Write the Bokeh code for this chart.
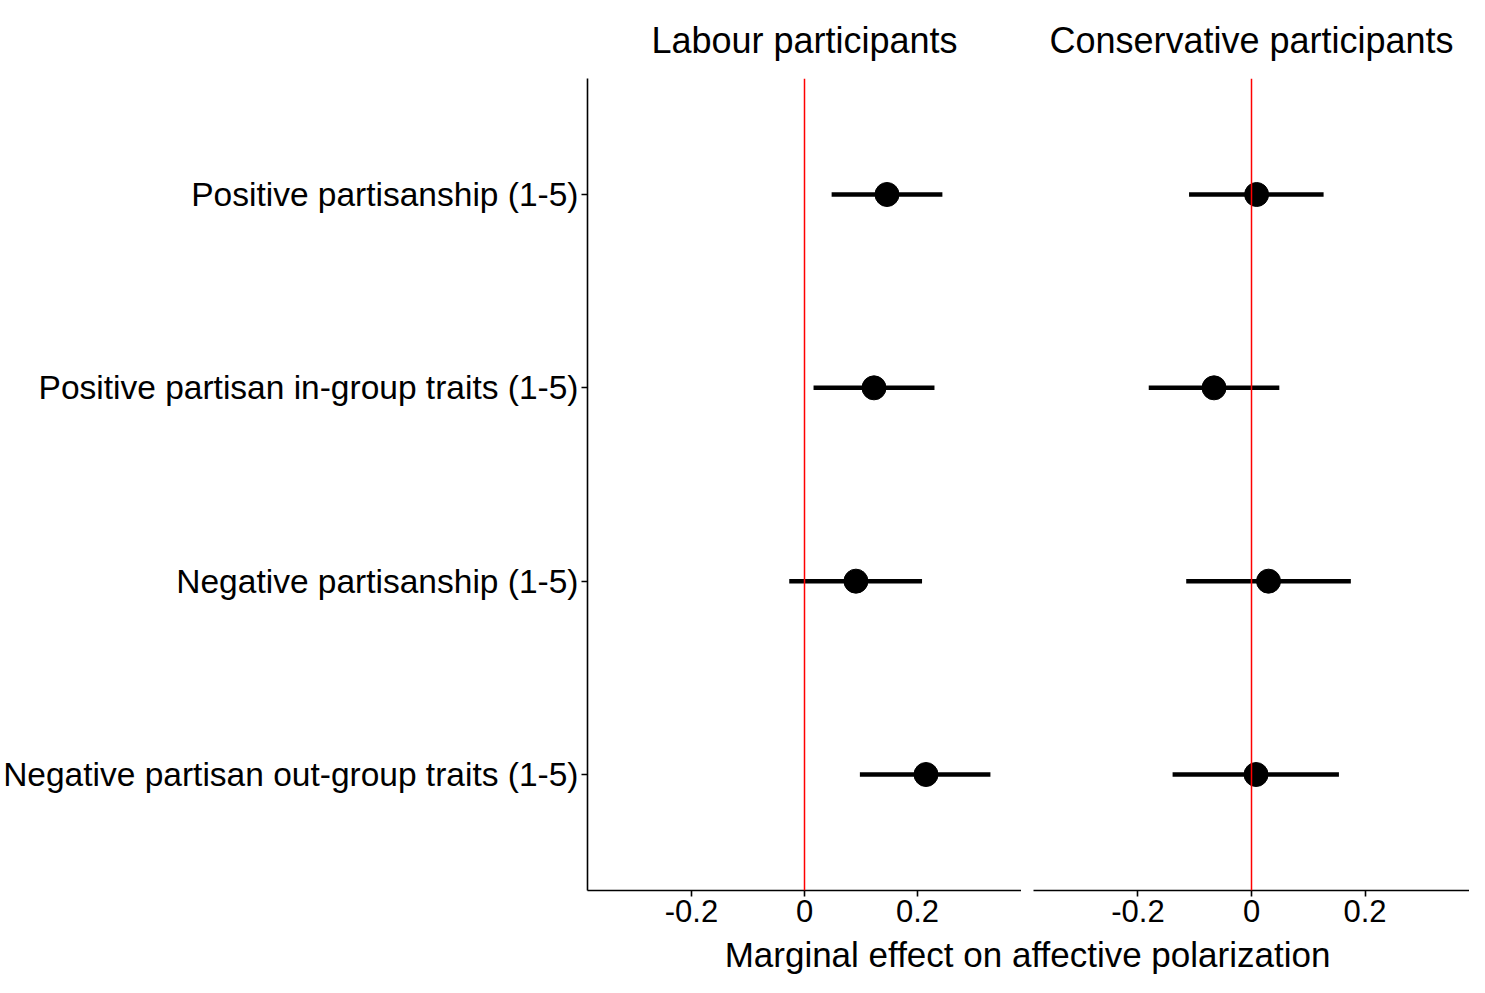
from bokeh.plotting import figure
from bokeh.models import Range1d, FactorRange, FixedTicker, Span, Label, ColumnDataSource
from bokeh.layouts import row, column
from bokeh.embed import file_html
from bokeh.resources import INLINE

# ---- data ----
categories = [
    "Positive partisanship (1-5)",
    "Positive partisan in-group traits (1-5)",
    "Negative partisanship (1-5)",
    "Negative partisan out-group traits (1-5)",
]
labour_est = [0.146, 0.123, 0.091, 0.215]
labour_lo = [0.048, 0.016, -0.027, 0.098]
labour_hi = [0.244, 0.230, 0.208, 0.329]
cons_est = [0.009, -0.066, 0.030, 0.008]
cons_lo = [-0.110, -0.181, -0.115, -0.139]
cons_hi = [0.127, 0.049, 0.175, 0.154]
panel_titles = ["Labour participants", "Conservative participants"]
x_ticks = [-0.2, 0, 0.2]
x_tick_labels = ["-0.2", "0", "0.2"]
x_label = "Marginal effect on affective polarization"
x_limits = (-0.384, 0.384)
reference_value = 0

FONT = "Liberation Sans"
PANEL_H = 934

y_range = FactorRange(*reversed(categories), range_padding=0.1, range_padding_units="absolute")


def make_panel(title, est, lo, hi, width, border_left, show_y):
    p = figure(width=width, height=PANEL_H, y_range=y_range, x_range=Range1d(*x_limits),
               output_backend="svg", toolbar_location=None, title=title,
               min_border_left=border_left, min_border_right=0,
               min_border_top=0, min_border_bottom=44)
    p.title.align = "center"
    p.title.text_font = FONT
    p.title.text_font_size = "36px"
    p.title.text_font_style = "normal"
    p.title.text_color = "black"
    p.title.standoff = 35
    p.outline_line_color = None
    p.xgrid.visible = False
    p.ygrid.visible = False
    p.background_fill_color = "white"
    p.border_fill_color = "white"

    src = ColumnDataSource(dict(cat=categories, est=est, lo=lo, hi=hi))
    p.add_layout(Span(location=reference_value, dimension="height",
                      line_color="#FF0000", line_width=1.5))
    p.segment(x0="lo", y0="cat", x1="hi", y1="cat", source=src,
              line_color="black", line_width=4.5)
    p.scatter(x="est", y="cat", source=src, size=24, color="black")

    xa = p.xaxis[0]
    xa.ticker = FixedTicker(ticks=x_ticks)
    xa.major_label_overrides = {t: l for t, l in zip(x_ticks, x_tick_labels)}
    xa.major_label_text_font = FONT
    xa.major_label_text_font_size = "31px"
    xa.major_label_text_color = "black"
    xa.major_label_standoff = 3
    xa.major_tick_out = 6
    xa.major_tick_in = 0
    xa.minor_tick_line_color = None
    xa.axis_line_color = "black"
    xa.axis_line_width = 1.6
    xa.major_tick_line_color = "black"
    xa.major_tick_line_width = 1.6

    ya = p.yaxis[0]
    if show_y:
        ya.major_label_text_font = FONT
        ya.major_label_text_font_size = "33.5px"
        ya.major_label_text_color = "black"
        ya.major_label_standoff = 3
        ya.major_tick_out = 6
        ya.major_tick_in = 0
        ya.axis_line_color = "black"
        ya.axis_line_width = 1.6
        ya.major_tick_line_color = "black"
        ya.major_tick_line_width = 1.6
    else:
        ya.visible = False
    return p


f1 = make_panel(panel_titles[0], labour_est, labour_lo, labour_hi, 1021, 585, True)
f2 = make_panel(panel_titles[1], cons_est, cons_lo, cons_hi, 448, 12, False)

f3 = figure(width=1469, height=40, x_range=Range1d(0, 1), y_range=Range1d(0, 1),
            title=None, x_axis_type=None, y_axis_type=None,
            output_backend="svg", toolbar_location=None,
            min_border_left=585, min_border_right=0, min_border_top=0, min_border_bottom=0)
f3.outline_line_color = None
f3.xgrid.visible = False
f3.ygrid.visible = False
f3.add_layout(Label(x=0.5, y=1, text=x_label, text_align="center",
                    text_baseline="top", text_font=FONT,
                    text_font_size="35px", text_color="black"))

layout = column(row(f1, f2), f3)
open("out.html", "w").write(file_html(layout, INLINE))
